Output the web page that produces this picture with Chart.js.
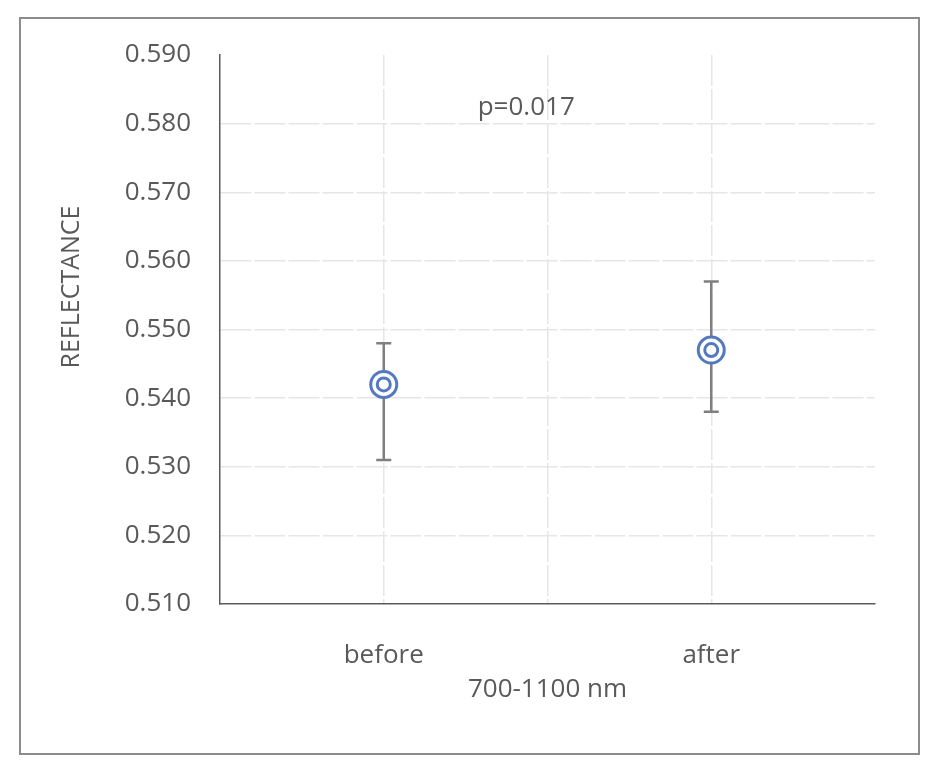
<!DOCTYPE html>
<html>
<head>
<meta charset="utf-8">
<script src="https://cdn.jsdelivr.net/npm/chart.js@4.4.0/dist/chart.umd.min.js"></script>
<style>
body{margin:0;background:#fff;}
#wrap{position:relative;width:935px;height:772px;}
#frame{position:absolute;left:19px;top:17px;width:897px;height:734px;border:2px solid #8c8c8c;pointer-events:none;}
canvas{position:absolute;left:0;top:0;}
</style>
</head>
<body>
<div id="wrap"><canvas id="grafico" width="935" height="772"></canvas><div id="frame"></div></div>
<script>
// dados
var categorias = ['before', 'after'];
var posicoes = [1, 3];
var medias = [0.542, 0.547];
var erroSup = [0.548, 0.557];
var erroInf = [0.531, 0.538];
var rotulosX = ['', 'before', '', 'after', ''];
var yMin = 0.51, yMax = 0.59, yPasso = 0.01;
var tituloY = 'REFLECTANCE';
var tituloX = '700-1100 nm';
var anotacao = 'p=0.017';

var azul = '#5479bf';
var cinzaTexto = '#595959';

function pontos(){
    var v = [];
    for (var i = 0; i < medias.length; i++) v.push({x: posicoes[i], y: medias[i]});
    return v;
}

Chart.defaults.font.family = "'Open Sans'";
Chart.defaults.color = cinzaTexto;

var barrasErro = {
    id: 'barrasErro',
    beforeDatasetsDraw: function(chart){
        var ctx = chart.ctx, sx = chart.scales.x, sy = chart.scales.y;
        ctx.save();
        ctx.strokeStyle = '#7f7f7f';
        ctx.lineWidth = 2.5;
        for (var i = 0; i < medias.length; i++){
            var px = sx.getPixelForValue(posicoes[i]);
            var t = sy.getPixelForValue(erroSup[i]);
            var b = sy.getPixelForValue(erroInf[i]);
            ctx.beginPath();
            ctx.moveTo(px, t); ctx.lineTo(px, b);
            ctx.moveTo(px - 7.5, t); ctx.lineTo(px + 7.5, t);
            ctx.moveTo(px - 7.5, b); ctx.lineTo(px + 7.5, b);
            ctx.stroke();
        }
        ctx.restore();
    },
    afterDraw: function(chart){
        var ctx = chart.ctx, sx = chart.scales.x, sy = chart.scales.y;
        ctx.save();
        ctx.fillStyle = cinzaTexto;
        ctx.textAlign = 'center';
        ctx.textBaseline = 'middle';
        ctx.font = "26px 'Open Sans'";
        ctx.fillText(anotacao, sx.getPixelForValue(1.87), sy.getPixelForValue(0.5823));
        // titulo do eixo y, deslocado para cima como no original
        ctx.font = "25px 'Open Sans'";
        ctx.translate(72, 287);
        ctx.rotate(-Math.PI / 2);
        ctx.fillText(tituloY, 0, 0);
        ctx.restore();
    }
};

var contexto = document.getElementById('grafico').getContext('2d');

var grafico = new Chart(contexto, {
    type: 'scatter',
    data: {
        datasets: [{
            label: 'interno',
            data: pontos(),
            pointRadius: 6.5,
            pointHoverRadius: 6.5,
            borderWidth: 3,
            pointBorderWidth: 3,
            borderColor: azul,
            backgroundColor: '#fff',
            showLine: false
        }, {
            label: 'externo',
            data: pontos(),
            pointRadius: 13,
            pointHoverRadius: 13,
            borderWidth: 3,
            pointBorderWidth: 3,
            borderColor: azul,
            backgroundColor: '#fff',
            showLine: false
        }]
    },
    options: {
        responsive: false,
        animation: false,
        layout: {padding: {left: 0, top: 55, right: 60, bottom: 58}},
        plugins: {legend: {display: false}, tooltip: {enabled: false}},
        scales: {
            x: {
                type: 'linear',
                min: 0,
                max: 4,
                afterFit: function(s){ s.height = 110; },
                ticks: {
                    stepSize: 1,
                    padding: 36,
                    maxRotation: 0,
                    font: {size: 26},
                    color: cinzaTexto,
                    callback: function(v){ return rotulosX[v] || ''; }
                },
                grid: {
                    drawTicks: false,
                    lineWidth: 1.5,
                    color: function(c){
                        var v = c.tick ? c.tick.value : 0;
                        return (v > 0 && v < 4) ? '#e6e6e6' : 'rgba(0,0,0,0)';
                    }
                },
                border: {display: true, color: '#5a5a5a', width: 1.5, dash: [31, 3]},
                title: {display: true, text: tituloX, font: {size: 26}, color: cinzaTexto, padding: {top: 0, bottom: 9}}
            },
            y: {
                min: yMin,
                max: yMax,
                afterFit: function(s){ s.width = 220; },
                ticks: {
                    stepSize: yPasso,
                    padding: 29,
                    font: {size: 26},
                    color: cinzaTexto,
                    callback: function(v){ return Number(v).toFixed(3); }
                },
                grid: {
                    drawTicks: false,
                    lineWidth: 1.5,
                    color: function(c){
                        var v = c.tick ? c.tick.value : 0;
                        return (v > yMin + 0.001 && v < yMax - 0.001) ? '#e6e6e6' : 'rgba(0,0,0,0)';
                    }
                },
                border: {display: true, color: '#5a5a5a', width: 1.5, dash: [31, 3]},
                title: {display: false}
            }
        }
    },
    plugins: [barrasErro]
});
</script>
</body>
</html>
